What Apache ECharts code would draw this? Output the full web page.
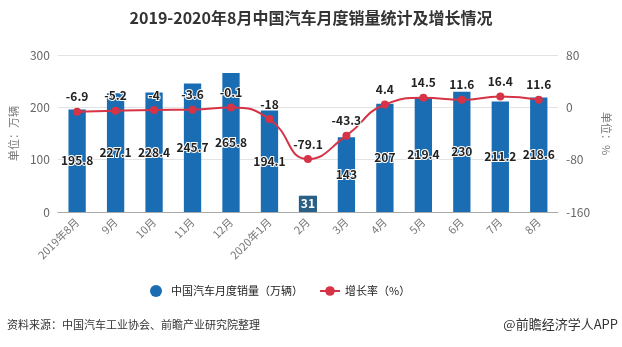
<!DOCTYPE html>
<html>
<head>
<meta charset="utf-8">
<script src="https://cdn.jsdelivr.net/npm/echarts@6/dist/echarts.min.js"></script>
<style>
  html, body { margin: 0; padding: 0; background: #fff; }
  #chart { width: 622px; height: 347px; }
</style>
</head>
<body>
<div id="chart"></div>
<script>
var months = ['2019年8月', '9月', '10月', '11月', '12月', '2020年1月', '2月', '3月', '4月', '5月', '6月', '7月', '8月'];
var sales = [195.8, 227.1, 228.4, 245.7, 265.8, 194.1, 31, 143, 207, 219.4, 230, 211.2, 218.6];
var growth = [-6.9, -5.2, -4, -3.6, -0.1, -18, -79.1, -43.3, 4.4, 14.5, 11.6, 16.4, 11.6];

var font = '"Noto Sans CJK SC", sans-serif';

var barData = sales.map(function (v) {
    if (v < 60) {
        return {
            value: v,
            label: {
                position: 'inside',
                color: '#fff',
                backgroundColor: '#2a5f86',
                textBorderWidth: 0,
                padding: [2, 2]
            }
        };
    }
    return v;
});

var chart = echarts.init(document.getElementById('chart'), null, {renderer: 'canvas'});
var option = {
    animation: false,
    textStyle: {fontFamily: font},
    title: {
        text: '2019-2020年8月中国汽车月度销量统计及增长情况',
        left: 'center',
        top: 5,
        textStyle: {fontSize: 16, fontWeight: 'bold', color: '#333', fontFamily: font}
    },
    grid: {left: 57, right: 64, top: 55, bottom: 135},
    legend: {
        bottom: 45,
        left: 145,
        itemGap: 16,
        itemWidth: 20,
        itemHeight: 12,
        textStyle: {fontSize: 11, color: '#222'},
        data: [
            {name: '中国汽车月度销量（万辆）', icon: 'circle'},
            {name: '增长率（%）'}
        ]
    },
    xAxis: {
        type: 'category',
        data: months,
        axisTick: {show: false},
        axisLine: {lineStyle: {color: '#aaa'}},
        axisLabel: {rotate: 45, color: '#777', fontSize: 11, interval: 0, margin: 8}
    },
    yAxis: [
        {
            type: 'value',
            min: 0, max: 300, interval: 100,
            name: '单位：万辆',
            nameLocation: 'middle',
            nameRotate: 90,
            nameGap: 38,
            nameTextStyle: {color: '#777', fontSize: 11},
            axisLabel: {color: '#666', fontSize: 12},
            axisLine: {show: false},
            axisTick: {show: false},
            splitLine: {lineStyle: {color: '#e3e3e3'}}
        },
        {
            type: 'value',
            min: -160, max: 80, interval: 80,
            name: '单位：%',
            nameLocation: 'middle',
            nameRotate: -90,
            nameGap: 38,
            nameTextStyle: {color: '#777', fontSize: 11},
            axisLabel: {color: '#666', fontSize: 12},
            axisLine: {show: false},
            axisTick: {show: false},
            splitLine: {show: false}
        }
    ],
    series: [
        {
            name: '中国汽车月度销量（万辆）',
            type: 'bar',
            barWidth: '45%',
            itemStyle: {color: '#1a6db3'},
            label: {
                show: true,
                position: 'inside',
                color: '#222',
                fontSize: 12,
                fontWeight: 'bold',
                textBorderColor: '#fff',
                textBorderWidth: 2
            },
            data: barData
        },
        {
            name: '增长率（%）',
            type: 'line',
            yAxisIndex: 1,
            smooth: true,
            symbol: 'circle',
            symbolSize: 8,
            itemStyle: {color: '#d63346'},
            lineStyle: {color: '#d63346', width: 2},
            label: {
                show: true,
                position: 'top',
                distance: 5,
                color: '#222',
                fontSize: 12,
                fontWeight: 'bold',
                textBorderColor: '#fff',
                textBorderWidth: 2
            },
            data: growth
        }
    ],
    graphic: [
        {
            type: 'text', left: 7, top: 319,
            style: {text: '资料来源：中国汽车工业协会、前瞻产业研究院整理', fill: '#333', font: '11px ' + font}
        },
        {
            type: 'text', right: 4, top: 318,
            style: {text: '@前瞻经济学人APP', fill: '#333', font: '13px ' + font}
        }
    ]
};
chart.setOption(option);
</script>
</body>
</html>
